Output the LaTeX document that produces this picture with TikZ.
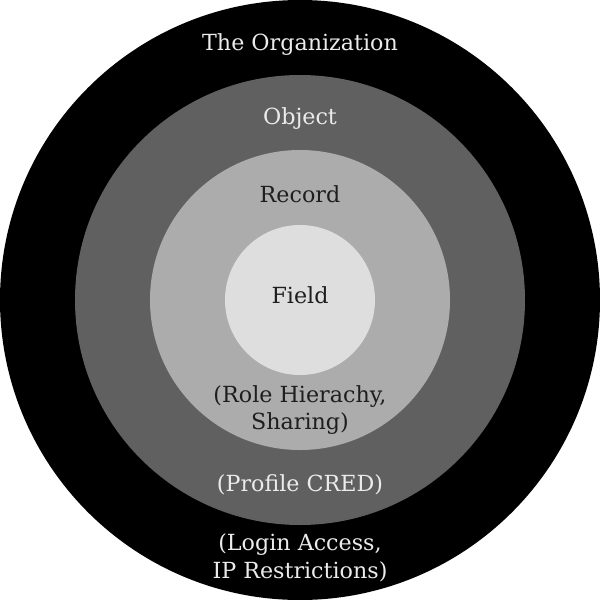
\documentclass[tikz,border=0pt]{standalone}
\usepackage{fontspec}
\setmainfont{DejaVu Serif}
\definecolor{ringA}{HTML}{000000}
\definecolor{ringB}{HTML}{606060}
\definecolor{ringC}{HTML}{ACACAC}
\definecolor{ringD}{HTML}{DEDEDE}
\definecolor{lighttext}{HTML}{EBEBEB}
\definecolor{darktext}{HTML}{1E1E1E}
\begin{document}
\begin{tikzpicture}[x=0.025cm,y=-0.025cm,
  lbl/.style={font=\fontsize{15.8}{19.8}\selectfont, align=center, inner sep=0pt},
  lightlbl/.style={lbl, text=lighttext},
  darklbl/.style={lbl, text=darktext}]
\useasboundingbox (0,0) rectangle (600,600);
\fill[ringA] (300,300) circle[radius=300];
\fill[ringB] (300,300) circle[radius=225];
\fill[ringC] (300,300) circle[radius=150];
\fill[ringD] (300,300) circle[radius=75];
\node[lightlbl] (org) at (300,45) {The Organization};
\node[lightlbl] (obj) at (300,119) {Object};
\node[darklbl] (rec) at (300,194) {Record};
\node[darklbl] (fld) at (300,295) {Field};
\node[darklbl] (role) at (300,410) {(Role Hierachy,\\Sharing)};
\node[lightlbl] (prof) at (300,485) {(Profile CRED)};
\node[lightlbl] (login) at (300,558) {(Login Access,\\IP Restrictions)};
\end{tikzpicture}
\end{document}
